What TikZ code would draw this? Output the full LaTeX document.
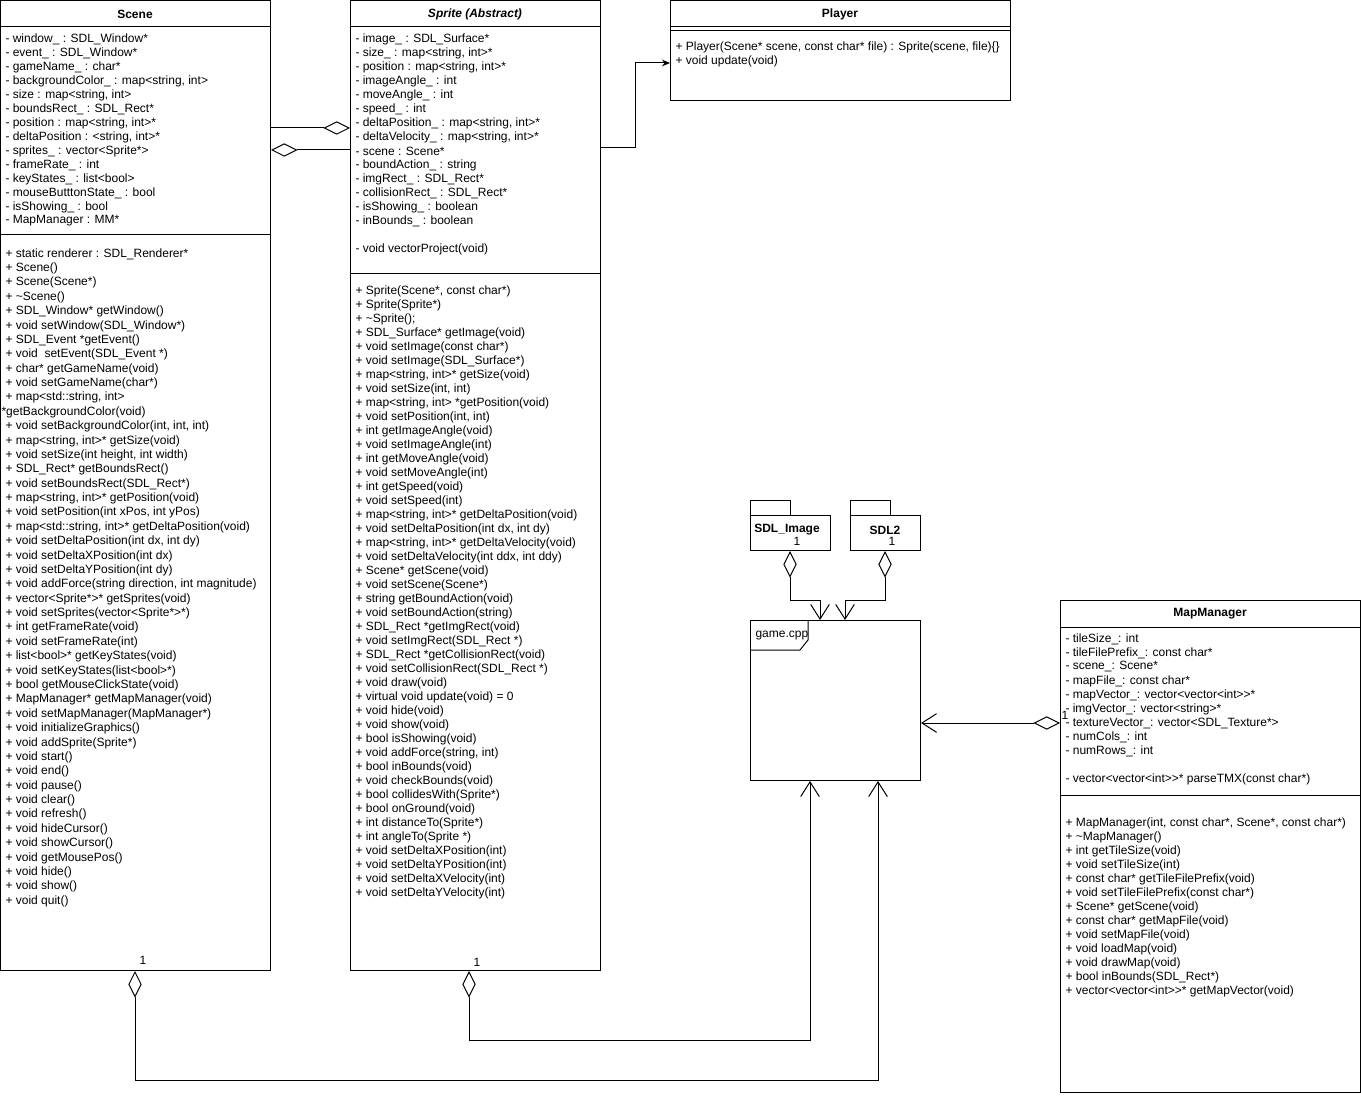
\documentclass[tikz,border=0pt]{standalone}
\usepackage{fontspec}
\setmainfont{Liberation Sans}
\usetikzlibrary{arrows.meta}
\begin{document}
\begin{tikzpicture}[x=0.75pt,y=-0.75pt,line width=0.75pt,
  txt/.style={anchor=west,inner sep=0,font=\fontsize{9}{10}\selectfont},
  ttl/.style={inner sep=0,font=\bfseries\fontsize{9}{10}\selectfont},
  box/.style={draw,fill=white},
  agg/.style={{Diamond[open,length=20pt,width=10pt]}-},
  aggopn/.style={{Diamond[open,length=20pt,width=10pt]}-{Straight Barb[length=11pt,width=14pt]}},
  opn/.style={-{Straight Barb[length=11pt,width=14pt]}}]
\useasboundingbox (0,0) rectangle (1361,1098);
% Scene
\node[box,minimum width=270*0.75pt,minimum height=970*0.75pt,anchor=north west,inner sep=0] (scene) at (0,0) {};
\draw (0,27) -- (270,27) (0,235) -- (270,235);
\node[ttl] (scenet) at (135,14) {Scene};
\foreach \t [count=\i from 0] in {{- window\_ : SDL\_Window*},{- event\_ : SDL\_Window*},{- gameName\_ : char*},{- backgroundColor\_ : map<string, int>},{- size : map<string, int>},{- boundsRect\_ : SDL\_Rect*},{- position : map<string, int>*},{- deltaPosition : <string, int>*},{- sprites\_ : vector<Sprite*>},{- frameRate\_ : int},{- keyStates\_ : list<bool>},{- mouseButttonState\_ : bool},{- isShowing\_ : bool},{- MapManager : MM*}}
  \node[txt] (sa\i) at (5,39+14*\i) {\t};
\foreach \t [count=\i from 0] in {{+ static renderer : SDL\_Renderer*},{+ Scene()},{+ Scene(Scene*)},{+ \textasciitilde Scene()},{+ SDL\_Window* getWindow()},{+ void setWindow(SDL\_Window*)},{+ SDL\_Event *getEvent()},{+ void\ \ setEvent(SDL\_Event *)},{+ char* getGameName(void)},{+ void setGameName(char*)},{+ map<std::string, int>},{*getBackgroundColor(void)},{+ void setBackgroundColor(int, int, int)},{+ map<string, int>* getSize(void)},{+ void setSize(int height, int width)},{+ SDL\_Rect* getBoundsRect()},{+ void setBoundsRect(SDL\_Rect*)},{+ map<string, int>* getPosition(void)},{+ void setPosition(int xPos, int yPos)},{+ map<std::string, int>* getDeltaPosition(void)},{+ void setDeltaPosition(int dx, int dy)},{+ void setDeltaXPosition(int dx)},{+ void setDeltaYPosition(int dy)},{+ void addForce(string direction, int magnitude)},{+ vector<Sprite*>* getSprites(void)},{+ void setSprites(vector<Sprite*>*)},{+ int getFrameRate(void)},{+ void setFrameRate(int)},{+ list<bool>* getKeyStates(void)},{+ void setKeyStates(list<bool>*)},{+ bool getMouseClickState(void)},{+ MapManager* getMapManager(void)},{+ void setMapManager(MapManager*)},{+ void initializeGraphics()},{+ void addSprite(Sprite*)},{+ void start()},{+ void end()},{+ void pause()},{+ void clear()},{+ void refresh()},{+ void hideCursor()},{+ void showCursor()},{+ void getMousePos()},{+ void hide()},{+ void show()},{+ void quit()}}
  \node[txt] (sm\i) at ({ifthenelse(\i==11,1,5)},254+14.38*\i) {\t};
% Sprite
\node[box,minimum width=250*0.75pt,minimum height=970*0.75pt,anchor=north west,inner sep=0] (sprite) at (350,0) {};
\draw (350,27) -- (600,27) (350,274) -- (600,274);
\node[ttl,font=\bfseries\itshape\fontsize{9}{10}\selectfont] (spritet) at (475,14) {Sprite (Abstract)};
\foreach \t [count=\i from 0] in {{- image\_ : SDL\_Surface*},{- size\_ : map<string, int>*},{- position : map<string, int>*},{- imageAngle\_ : int},{- moveAngle\_ : int},{- speed\_ : int},{- deltaPosition\_ : map<string, int>*},{- deltaVelocity\_ : map<string, int>*},{- scene : Scene*},{- boundAction\_ : string},{- imgRect\_ : SDL\_Rect*},{- collisionRect\_ : SDL\_Rect*},{- isShowing\_ : boolean},{- inBounds\_ : boolean},{},{- void vectorProject(void)}}
  \node[txt] (pa\i) at (355,39+14*\i) {\t};
\foreach \t [count=\i from 0] in {{+ Sprite(Scene*, const char*)},{+ Sprite(Sprite*)},{+ \textasciitilde Sprite();},{+ SDL\_Surface* getImage(void)},{+ void setImage(const char*)},{+ void setImage(SDL\_Surface*)},{+ map<string, int>* getSize(void)},{+ void setSize(int, int)},{+ map<string, int> *getPosition(void)},{+ void setPosition(int, int)},{+ int getImageAngle(void)},{+ void setImageAngle(int)},{+ int getMoveAngle(void)},{+ void setMoveAngle(int)},{+ int getSpeed(void)},{+ void setSpeed(int)},{+ map<string, int>* getDeltaPosition(void)},{+ void setDeltaPosition(int dx, int dy)},{+ map<string, int>* getDeltaVelocity(void)},{+ void setDeltaVelocity(int ddx, int ddy)},{+ Scene* getScene(void)},{+ void setScene(Scene*)},{+ string getBoundAction(void)},{+ void setBoundAction(string)},{+ SDL\_Rect *getImgRect(void)},{+ void setImgRect(SDL\_Rect *)},{+ SDL\_Rect *getCollisionRect(void)},{+ void setCollisionRect(SDL\_Rect *)},{+ void draw(void)},{+ virtual void update(void) = 0},{+ void hide(void)},{+ void show(void)},{+ bool isShowing(void)},{+ void addForce(string, int)},{+ bool inBounds(void)},{+ void checkBounds(void)},{+ bool collidesWith(Sprite*)},{+ bool onGround(void)},{+ int distanceTo(Sprite*)},{+ int angleTo(Sprite *)},{+ void setDeltaXPosition(int)},{+ void setDeltaYPosition(int)},{+ void setDeltaXVelocity(int)},{+ void setDeltaYVelocity(int)}}
  \node[txt] (pm\i) at (355,291+14*\i) {\t};
% Player
\node[box,minimum width=340*0.75pt,minimum height=100*0.75pt,anchor=north west,inner sep=0] (player) at (670,0) {};
\draw (670,27) -- (1010,27) (670,31) -- (1010,31);
\node[ttl] (playert) at (840,14) {Player};
\node[txt] (pl0) at (675,47) {+ Player(Scene* scene, const char* file) : Sprite(scene, file)\{\}};
\node[txt] (pl1) at (675,61) {+ void update(void)};
% MapManager
\node[box,minimum width=300*0.75pt,minimum height=492*0.75pt,anchor=north west,inner sep=0] (mm) at (1060,600) {};
\draw (1060,627) -- (1360,627) (1060,795) -- (1360,795);
\node[ttl] (mmt) at (1210,614) {MapManager};
\foreach \t [count=\i from 0] in {{- tileSize\_: int},{- tileFilePrefix\_: const char*},{- scene\_: Scene*},{- mapFile\_: const char*},{- mapVector\_: vector<vector<int>{}>*},{- imgVector\_: vector<string>*},{- textureVector\_: vector<SDL\_Texture*>},{- numCols\_: int},{- numRows\_: int},{},{- vector<vector<int>{}>* parseTMX(const char*)}}
  \node[txt] (ma\i) at (1065,639+14*\i) {\t};
\foreach \t [count=\i from 0] in {{+ MapManager(int, const char*, Scene*, const char*)},{+ \textasciitilde MapManager()},{+ int getTileSize(void)},{+ void setTileSize(int)},{+ const char* getTileFilePrefix(void)},{+ void setTileFilePrefix(const char*)},{+ Scene* getScene(void)},{+ const char* getMapFile(void)},{+ void setMapFile(void)},{+ void loadMap(void)},{+ void drawMap(void)},{+ bool inBounds(SDL\_Rect*)},{+ vector<vector<int>{}>* getMapVector(void)}}
  \node[txt] (mb\i) at (1065,823+14*\i) {\t};
% game.cpp
\node[box,minimum width=170*0.75pt,minimum height=160*0.75pt,anchor=north west,inner sep=0] (game) at (750,620) {};
\draw (750,650) -- (800,650) -- (808,640) -- (808,620);
\node[txt] (gamet) at (755,636) {game.cpp};
% packages
\draw (750,500) rectangle (790,515);
\node[box,minimum width=80*0.75pt,minimum height=35*0.75pt,anchor=north west,inner sep=0] (sdlimg) at (750,515) {};
\node[ttl] (sdlimgt) at (787,530) {SDL\_Image};
\node[txt,anchor=center] (sdlimg1) at (797,541) {1};
\draw (850,500) rectangle (890,515);
\node[box,minimum width=70*0.75pt,minimum height=35*0.75pt,anchor=north west,inner sep=0] (sdl2) at (850,515) {};
\node[ttl] (sdl2t) at (885,530) {SDL2};
\node[txt,anchor=center] (sdl21) at (892,541) {1};
% connectors
\coordinate (c1) at (scene.north east |- 0,128);
\coordinate (c2) at (sprite.north west |- 0,128);
\draw[agg] (c2) -- (c1);
\coordinate (c3) at (scene.north east |- 0,150);
\coordinate (c4) at (sprite.north west |- 0,150);
\draw[agg] (c3) -- (c4);
\coordinate (c5) at (sprite.north east |- 0,148);
\coordinate (c6) at (player.north west |- 0,63);
\draw[-{Stealth[length=6pt,width=5pt]}] (c5) -- (635,148) -- (635,63) -- (c6);
\draw[aggopn] (sdlimg.south -| 790,0) -- (790,600) -- (820,600) -- (game.north -| 820,0);
\draw[aggopn] (sdl2.south -| 885,0) -- (885,600) -- (845,600) -- (game.north -| 845,0);
\draw[aggopn] (mm.west |- 0,723) -- (game.east |- 0,723);
\node[txt,anchor=center] (mm1) at (1065,715) {1};
\draw[aggopn] (scene.south -| 135,0) -- (135,1080) -- (878,1080) -- (game.south -| 878,0);
\node[txt,anchor=center] (sc1) at (143,960) {1};
\draw[aggopn] (sprite.south -| 469,0) -- (469,1040) -- (810,1040) -- (game.south -| 810,0);
\node[txt,anchor=center] (sp1) at (477,962) {1};
\end{tikzpicture}
\end{document}
